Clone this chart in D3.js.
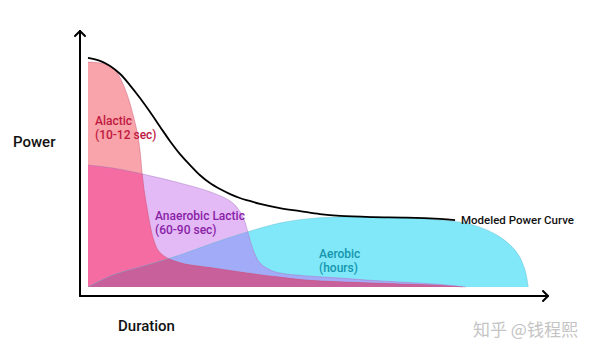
<!DOCTYPE html>
<html><head><meta charset="utf-8">
<script src="https://cdn.jsdelivr.net/npm/d3@7"></script>
<style>
html,body{margin:0;padding:0;background:#fff;}
svg{display:block;font-family:Roboto,"Noto Sans",sans-serif;}
</style></head>
<body>
<svg id="chart" width="600" height="355"></svg>
<script>
// Data (abstract units: duration 0..100, power 0..100)
const powerCurve = [[0,99.6],[2.6,98.3],[4.8,96.1],[7.0,92.6],[9.1,87.8],[11.3,82.2],[13.5,76.1],[15.7,69.6],[17.8,63.5],[20.0,57.8],[22.2,53.0],[24.3,48.7],[26.5,45.2],[28.7,42.6],[30.9,40.4],[33.0,38.7],[35.2,37.4],[37.4,36.1],[41.7,34.3],[46.1,33.0],[50.4,31.7],[54.8,30.9],[62.0,30.4],[69.3,30.2],[76.5,29.6],[79.8,29.1]];
const alactic = [[0,97.8],[2.6,97.4],[4.8,96.1],[6.5,92.6],[7.8,87.4],[8.9,81.3],[9.8,74.8],[10.7,67.4],[11.3,59.6],[11.7,50.9],[12.2,42.2],[12.8,34.8],[13.5,27.0],[14.3,20.4],[15.2,16.1],[16.5,13.5],[18.3,11.7],[21.1,10.0],[27.2,8.3],[34.6,6.1],[41.7,4.3],[47.6,3.0],[62.0,1.7],[76.5,0.7],[81.5,0]];
const lactic = [[0,53.0],[5.4,51.7],[12.8,48.7],[20.0,45.2],[27.2,40.9],[31.5,36.5],[33.7,30.4],[34.8,23.5],[35.9,16.1],[37.4,10.4],[39.6,7.4],[41.7,6.1],[47.6,4.8],[54.8,3.9],[62.0,2.8],[69.3,2.0],[76.5,1.1],[82.2,0]];
const aerobic = [[0,0],[5.4,5.2],[12.8,9.6],[20.0,13.9],[27.2,19.1],[34.6,23.9],[41.7,27.8],[47.6,29.6],[54.8,30.4],[69.3,30.0],[76.5,29.1],[83.7,27.0],[89.6,21.7],[93.3,14.8],[95.0,7.4],[95.7,0]];
const labels = {
  alactic: ["Alactic", "(10-12 sec)"],
  lactic: ["Anaerobic Lactic", "(60-90 sec)"],
  aerobic: ["Aerobic", "(hours)"],
  curve: "Modeled Power Curve",
  yTitle: "Power",
  xTitle: "Duration",
  watermark: "知乎 @钱程熙"
};

const svg = d3.select("#chart");
const x = d3.scaleLinear().domain([0,100]).range([88,548]);
const y = d3.scaleLinear().domain([0,100]).range([287,57]);

const curve = d3.curveCatmullRom.alpha(0.5);
const area = d3.area().x(d=>x(d[0])).y0(y(0)).y1(d=>y(d[1])).curve(curve);
const line = d3.line().x(d=>x(d[0])).y(d=>y(d[1])).curve(curve);

const defs = svg.append("defs");
[["clipAlactic",alactic],["clipLactic",lactic],["clipAerobic",aerobic]].forEach(([id,data])=>{
  defs.append("clipPath").attr("id",id).append("path").attr("d",area(data));
});

const g = svg.append("g");
// base fills
g.append("path").attr("d",area(aerobic)).attr("fill","#80e8f8");
g.append("path").attr("d",area(lactic)).attr("fill","#e3b9f6");
g.append("path").attr("d",area(alactic)).attr("fill","#f9a3aa");
// overlaps
g.append("path").attr("d",area(lactic)).attr("fill","#a2abf8").attr("clip-path","url(#clipAerobic)");
g.append("path").attr("d",area(alactic)).attr("fill","#f56ca3").attr("clip-path","url(#clipLactic)");
g.append("path").attr("d",area(alactic)).attr("fill","#c8609c").attr("clip-path","url(#clipAerobic)");
// faint outlines
g.append("path").attr("d",line(aerobic)).attr("fill","none").attr("stroke","#5ab8cc").attr("stroke-width",0.7).attr("opacity",0.6);
g.append("path").attr("d",line(lactic)).attr("fill","none").attr("stroke","#9a6cb8").attr("stroke-width",0.7).attr("opacity",0.6);
g.append("path").attr("d",line(alactic)).attr("fill","none").attr("stroke","#c05070").attr("stroke-width",0.7).attr("opacity",0.6);

// power curve
g.append("path").attr("d",line(powerCurve)).attr("fill","none").attr("stroke","#000").attr("stroke-width",1.8);

// axes
const ax = svg.append("g").attr("stroke","#000").attr("stroke-width",2).attr("fill","none").attr("stroke-linecap","round").attr("stroke-linejoin","round");
ax.append("path").attr("d",`M80,296V31`);
ax.append("path").attr("d",`M75,36L80,31L85,36`);
ax.append("path").attr("d",`M80,296H548`);
ax.append("path").attr("d",`M543,291L548,296L543,301`);

// labels
const t = svg.append("g").attr("font-weight",500);
t.append("text").attr("x",13).attr("y",147).attr("font-size",15).attr("fill","#111").text(labels.yTitle);
t.append("text").attr("x",118).attr("y",331).attr("font-size",15).attr("fill","#111").text(labels.xTitle);
t.append("text").attr("x",95).attr("y",125).attr("font-size",12).attr("fill","#c0183f").text(labels.alactic[0]);
t.append("text").attr("x",95).attr("y",139).attr("font-size",12).attr("fill","#c0183f").text(labels.alactic[1]);
t.append("text").attr("x",155).attr("y",220).attr("font-size",12).attr("fill","#8a22a6").text(labels.lactic[0]);
t.append("text").attr("x",155).attr("y",234).attr("font-size",12).attr("fill","#8a22a6").text(labels.lactic[1]);
t.append("text").attr("x",319).attr("y",258).attr("font-size",12).attr("fill","#1596ae").text(labels.aerobic[0]);
t.append("text").attr("x",319).attr("y",272).attr("font-size",12).attr("fill","#1596ae").text(labels.aerobic[1]);
t.append("text").attr("x",461).attr("y",224).attr("font-size",11.5).attr("fill","#111").text(labels.curve);
svg.append("text").attr("x",473).attr("y",336).attr("font-size",17).attr("fill","#c4c4c4")
  .attr("font-family","'Noto Sans CJK SC',sans-serif").text(labels.watermark);
</script>
</body></html>
